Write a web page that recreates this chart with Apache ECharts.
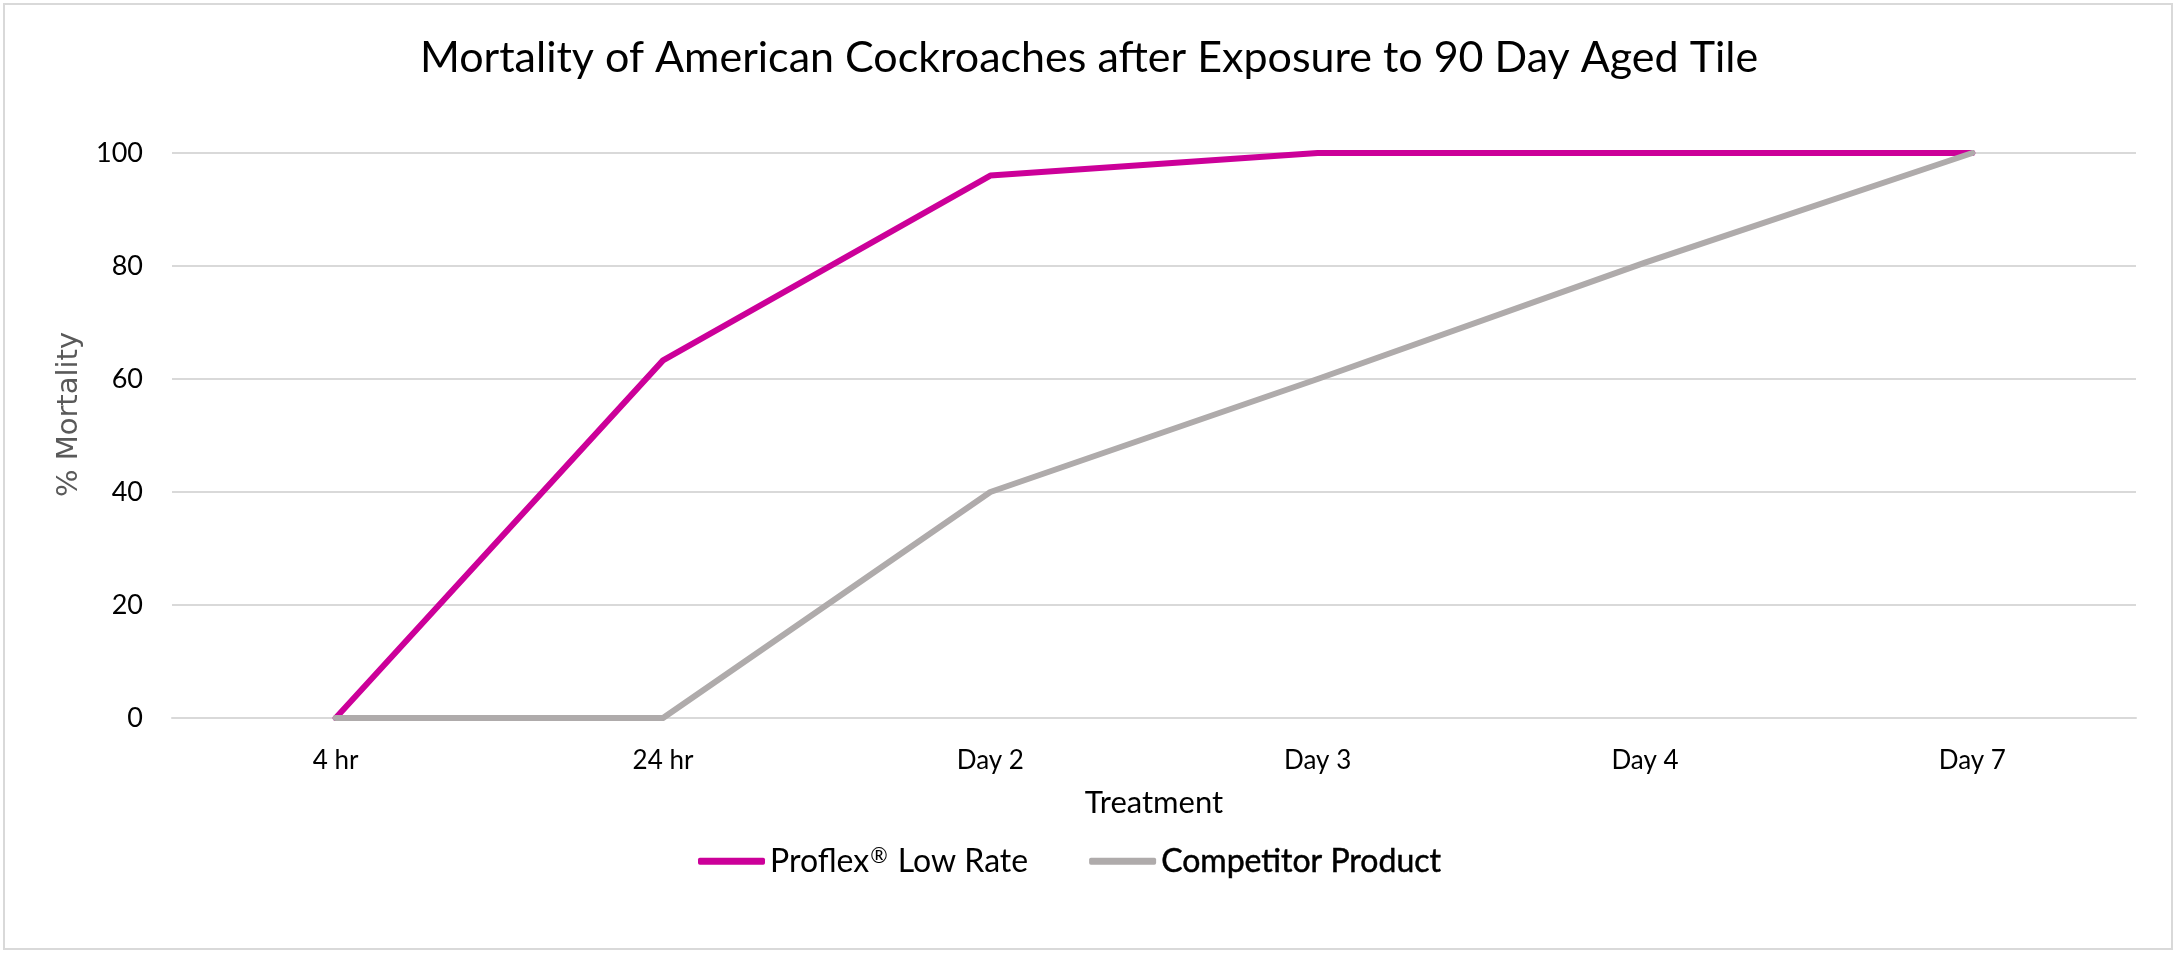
<!DOCTYPE html>
<html>
<head>
<meta charset="utf-8">
<script src="https://cdn.jsdelivr.net/npm/echarts@6/dist/echarts.min.js"></script>
<style>
html,body{margin:0;padding:0;background:#fff;}
#wrap{position:absolute;left:3px;top:3px;width:2170px;height:947px;border:2px solid #d9d9d9;box-sizing:border-box;}
#chart{position:absolute;left:0;top:0;width:2178px;height:955px;}
</style>
</head>
<body>
<div id="wrap"></div>
<div id="chart"></div>
<script>
const categories = ['4 hr', '24 hr', 'Day 2', 'Day 3', 'Day 4', 'Day 7'];
const proflex = [0, 63.3, 96, 100, 100, 100];
const competitor = [0, 0, 40, 60, 80.6, 100];
const yTicks = [0, 20, 40, 60, 80, 100];

const FONT = 'Lato';
const chart = echarts.init(document.getElementById('chart'), null, {renderer: 'canvas'});
chart.setOption({
  backgroundColor: 'transparent',
  animation: false,
  title: {
    text: 'Mortality of American Cockroaches after Exposure to 90 Day Aged Tile',
    left: 'center',
    top: 32,
    textStyle: {fontFamily: FONT, fontSize: 43, fontWeight: 'normal', color: '#000'}
  },
  grid: {left: 172, right: 42, top: 153, bottom: 237, containLabel: false},
  legend: {
    left: 693,
    top: 840,
    itemWidth: 67,
    itemHeight: 7,
    itemGap: 61,
    icon: 'roundRect',
    formatter: function (name) {
      if (name.indexOf('®') >= 0) {
        const parts = name.split('®');
        return '{a|' + parts[0] + '}{sup|®}{a|' + parts[1] + '}';
      }
      return '{b|' + name + '}';
    },
    textStyle: {
      fontFamily: FONT, fontSize: 32, color: '#000',
      rich: {
        a: {fontFamily: FONT, fontSize: 32, color: '#000'},
        sup: {fontFamily: FONT, fontSize: 21, color: '#000', verticalAlign: 'top', padding: [0, 2, 10, 1]},
        b: {fontFamily: FONT, fontSize: 32, color: '#000', textBorderColor: '#000', textBorderWidth: 0.5}
      }
    },
    data: [
      {name: 'Proflex® Low Rate'},
      {name: 'Competitor Product'}
    ]
  },
  xAxis: {
    type: 'category',
    data: categories,
    boundaryGap: true,
    name: 'Treatment',
    nameLocation: 'middle',
    nameGap: 69,
    nameTextStyle: {fontFamily: FONT, fontSize: 31, color: '#000'},
    axisLine: {show: true, lineStyle: {color: '#d9d9d9', width: 2}},
    axisTick: {show: false},
    axisLabel: {fontFamily: FONT, fontSize: 26, color: '#000', margin: 30}
  },
  yAxis: {
    type: 'value',
    min: 0,
    max: 100,
    interval: 20,
    name: '% Mortality',
    nameLocation: 'middle',
    nameGap: 88,
    nameTextStyle: {fontFamily: 'DejaVu Sans', fontSize: 29, color: '#595959', padding: [0, 0, 0, 42]},
    axisLine: {show: false},
    axisTick: {show: false},
    splitLine: {lineStyle: {color: '#d9d9d9', width: 2}},
    axisLabel: {
      fontFamily: FONT, fontSize: 27, color: '#000', margin: 29,
      formatter: v => yTicks.includes(v) ? String(v) : ''
    }
  },
  series: [
    {
      name: 'Proflex® Low Rate',
      type: 'line',
      data: proflex,
      showSymbol: false,
      symbol: 'none',
      lineStyle: {color: '#cc0099', width: 6, cap: 'round', join: 'round'},
      itemStyle: {color: '#cc0099'},
      z: 2
    },
    {
      name: 'Competitor Product',
      type: 'line',
      data: competitor,
      showSymbol: false,
      symbol: 'none',
      lineStyle: {color: '#afabab', width: 6, cap: 'round', join: 'round'},
      itemStyle: {color: '#afabab'},
      z: 3
    }
  ]
});
</script>
</body>
</html>
